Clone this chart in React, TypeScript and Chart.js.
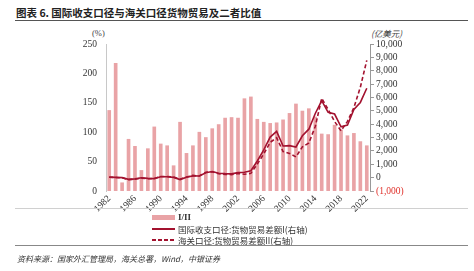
import React, { useEffect, useRef } from 'react';
import { Chart, registerables } from 'chart.js';

Chart.register(...registerables);

const years = [
  '1982', '1983', '1984', '1985', '1986', '1987', '1988', '1989', '1990', '1991',
  '1992', '1993', '1994', '1995', '1996', '1997', '1998', '1999', '2000', '2001',
  '2002', '2003', '2004', '2005', '2006', '2007', '2008', '2009', '2010', '2011',
  '2012', '2013', '2014', '2015', '2016', '2017', '2018', '2019', '2020', '2021', '2022',
];

const xTickYears = ['1982', '1986', '1990', '1994', '1998', '2002', '2006', '2010', '2014', '2018', '2022'];

// I/II (%)
const ratioIII = [
  137, 217, 14, 88, 76, 35, 72, 109, 80, 77,
  43, 117, 64, 77, 100, 91, 106, 113, 124, 125,
  124, 157, 160, 122, 117, 115, 116, 121, 132, 148,
  136, 140, 126, 97, 96, 112, 104, 94, 98, 84, 77,
];

// 国际收支口径 货物贸易差额 I (亿美元)
const bopBalance = [
  41, 17, -2, -131, -91, -13, -56, -72, 70, 62,
  19, -143, 35, 129, 122, 368, 461, 330, 299, 282,
  377, 400, 514, 1244, 2077, 3039, 3458, 2368, 2396, 2293,
  3132, 3626, 4800, 5762, 4889, 4759, 3801, 3930, 5111, 5627, 6686,
];

// 海关口径 货物贸易差额 II (亿美元)
const customsBalance = [
  30, 8, -13, -149, -120, -38, -78, -66, 87, 81,
  44, -122, 54, 167, 122, 404, 435, 292, 241, 226,
  304, 255, 321, 1020, 1775, 2643, 2981, 1957, 1815, 1549,
  2303, 2590, 3825, 5939, 5097, 4196, 3509, 4211, 5240, 6764, 8776,
];

const leftTicksMax = 250;
const rightTicksMin = -1000;
const rightTicksMax = 10000;

const PINK = '#E9A3A6';
const RED = '#A3122F';
const TICK_COLOR = '#333333';
const NEG_COLOR = '#E0302A';
const SERIF = '"Liberation Serif", "Times New Roman", serif';
const CJK = '"Noto Sans CJK SC", sans-serif';

function fmtRight(v: number): string {
  const s = Math.abs(v).toLocaleString('en-US');
  return v < 0 ? `(${s})` : s;
}

export default function App() {
  const canvasRef = useRef<HTMLCanvasElement | null>(null);

  useEffect(() => {
    if (!canvasRef.current) return;
    const tickFont = { family: SERIF, size: 9.5 };
    const chart = new Chart(canvasRef.current, {
      type: 'bar',
      data: {
        labels: years,
        datasets: [
          {
            type: 'line',
            label: '海关口径:货物贸易差额II(右轴)',
            data: customsBalance,
            yAxisID: 'y1',
            borderColor: RED,
            backgroundColor: RED,
            borderWidth: 1.6,
            borderDash: [4, 2.5],
            pointRadius: 0,
            fill: false,
            tension: 0,
            order: 0,
          },
          {
            type: 'line',
            label: '国际收支口径:货物贸易差额I(右轴)',
            data: bopBalance,
            yAxisID: 'y1',
            borderColor: RED,
            backgroundColor: RED,
            borderWidth: 1.6,
            pointRadius: 0,
            fill: false,
            tension: 0,
            order: 1,
          },
          {
            type: 'bar',
            label: 'I/II',
            data: ratioIII,
            yAxisID: 'y',
            backgroundColor: PINK,
            barThickness: 3,
            order: 2,
          },
        ],
      } as any,
      options: {
        animation: false,
        responsive: false,
        maintainAspectRatio: false,
        layout: { padding: { top: 44, left: 0, right: 0, bottom: 0 } },
        plugins: { legend: { display: false }, tooltip: { enabled: false }, title: { display: false } },
        scales: {
          x: {
            type: 'category',
            offset: true,
            grid: { display: false, drawTicks: false },
            border: { display: false },
            ticks: {
              autoSkip: false,
              maxRotation: 45,
              minRotation: 45,
              padding: 2,
              font: tickFont,
              color: TICK_COLOR,
              callback: (_v: any, i: number) => (xTickYears.includes(years[i]) ? years[i] : ''),
            },
            afterFit: (s: any) => {
              s.height = 21;
            },
          },
          y: {
            position: 'left',
            min: 0,
            max: leftTicksMax,
            ticks: { stepSize: 50, autoSkip: false, padding: 9, font: tickFont, color: TICK_COLOR },
            grid: { display: false, drawTicks: false },
            border: { display: true, color: '#C8C8C8', width: 1 },
            afterFit: (s: any) => {
              s.width = 106;
            },
          },
          y1: {
            position: 'right',
            min: rightTicksMin,
            max: rightTicksMax,
            ticks: {
              stepSize: 1000,
              autoSkip: false,
              padding: 2,
              font: tickFont,
              color: (ctx: any) => (ctx.tick && ctx.tick.value < 0 ? NEG_COLOR : TICK_COLOR),
              callback: (v: any) => fmtRight(Number(v)),
            },
            grid: { display: true, drawOnChartArea: false, drawTicks: true, tickLength: 4, color: '#999999' },
            border: { display: true, color: '#999999', width: 1 },
            afterFit: (s: any) => {
              s.width = 104;
            },
          },
        },
      } as any,
    });
    return () => chart.destroy();
  }, []);

  const abs = (o: React.CSSProperties): React.CSSProperties => ({ position: 'absolute', ...o });

  return (
    <div
      style={{
        position: 'fixed',
        left: 0,
        top: 0,
        width: 474,
        height: 271,
        background: '#ffffff',
        overflow: 'hidden',
      }}
    >
      <div
        style={abs({
          left: 16,
          top: 5,
          fontFamily: CJK,
          fontWeight: 700,
          fontSize: 10.5,
          lineHeight: '15px',
          color: '#222',
          whiteSpace: 'nowrap',
        })}
      >
        图表 6. 国际收支口径与海关口径货物贸易及二者比值
      </div>
      <div style={abs({ left: 15, top: 20, width: 453, height: 1, background: '#555' })} />
      <div style={abs({ left: 92, top: 27, fontFamily: SERIF, fontSize: 8.5, lineHeight: '12px', color: '#444' })}>
        (%)
      </div>
      <div
        style={abs({ left: 371, top: 27, fontFamily: CJK, fontSize: 8.5, lineHeight: '12px', color: '#444', fontStyle: 'italic' })}
      >
        (亿美元)
      </div>
      <canvas ref={canvasRef} width={474} height={212} style={abs({ left: 0, top: 0, width: 474, height: 212 })} />
      <div style={abs({ left: 15, top: 208, width: 453, height: 1, background: '#D0D0D0' })} />

      <div style={abs({ left: 152, top: 215, width: 23, height: 5, background: PINK })} />
      <div style={abs({ left: 178, top: 211, fontFamily: SERIF, fontSize: 9, lineHeight: '12px', color: '#333', fontWeight: 700 })}>
        I/II
      </div>
      <div style={abs({ left: 152, top: 228, width: 23, height: 2, background: RED })} />
      <div style={abs({ left: 178, top: 223, fontFamily: CJK, fontSize: 8.5, lineHeight: '12px', color: '#333', whiteSpace: 'nowrap' })}>
        国际收支口径:货物贸易差额I(右轴)
      </div>
      <div
        style={abs({
          left: 152,
          top: 239,
          width: 23,
          height: 2,
          background: `repeating-linear-gradient(90deg, ${RED} 0 4px, transparent 4px 6px)`,
        })}
      />
      <div style={abs({ left: 178, top: 234, fontFamily: CJK, fontSize: 8.5, lineHeight: '12px', color: '#333', whiteSpace: 'nowrap' })}>
        海关口径:货物贸易差额II(右轴)
      </div>
      <div style={abs({ left: 15, top: 245, width: 453, height: 1, background: '#888' })} />
      <div
        style={abs({
          left: 17,
          top: 253,
          fontFamily: CJK,
          fontSize: 8,
          lineHeight: '12px',
          color: '#333',
          fontStyle: 'italic',
          whiteSpace: 'nowrap',
        })}
      >
        资料来源：国家外汇管理局，海关总署，Wind，中银证券
      </div>
    </div>
  );
}
